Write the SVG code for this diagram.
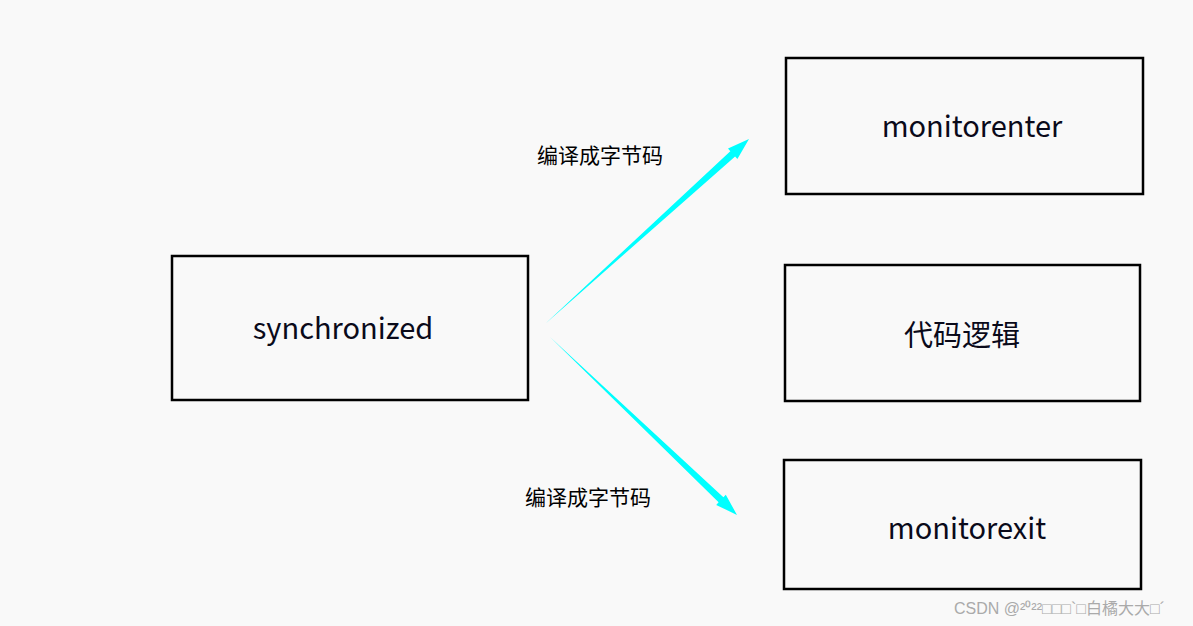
<svg xmlns="http://www.w3.org/2000/svg" width="1193" height="626" viewBox="0 0 1193 626">
<style>
.box{fill:none;stroke:#000;stroke-width:2.5}
.t{font-family:"Noto Sans CJK SC","Noto Sans",sans-serif;font-size:29px;fill:#0a0a1a;text-anchor:middle}
.l{font-family:"Noto Sans CJK SC",sans-serif;font-size:21px;fill:#000}
.arr{fill:#00ffff}
</style>
<rect width="1193" height="626" fill="#f9f9f9"/>
<g id="connectors">
<polygon class="arr" points="545,324 735.1,156.4 737.4,159 749,139 728,148.6 730.3,151.2"/>
<polygon class="arr" points="550,337 718.6,502.3 716.2,504.9 737,515 725.8,494.7 723.4,497.3"/>
<text class="l" x="537" y="163">编译成字节码</text>
<text class="l" x="525" y="505">编译成字节码</text>
</g>
<g id="synchronized"><rect class="box" x="172" y="256" width="356" height="144"/><text class="t" x="343" y="339">synchronized</text></g>
<g id="monitorenter"><rect class="box" x="786" y="58" width="357" height="136"/><text class="t" x="972" y="137">monitorenter</text></g>
<g id="logic"><rect class="box" x="785" y="265" width="355" height="136"/><text class="t" x="962" y="346">代码逻辑</text></g>
<g id="monitorexit"><rect class="box" x="784" y="460" width="357" height="129"/><text class="t" x="967" y="539">monitorexit</text></g>
<text x="954" y="614" font-family="Liberation Sans,Noto Sans CJK SC,sans-serif" font-size="16" fill="#aaa">CSDN @²⁰²²□□□`□白橘大大□´</text>
</svg>
